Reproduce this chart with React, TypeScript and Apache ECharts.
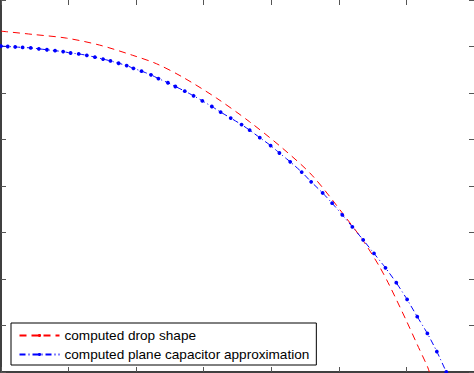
import React, { useEffect, useRef } from "react";
import * as echarts from "echarts";

// Computed drop shape (red dashed)
const dropX = [0, 0.47, 0.97, 1.46, 1.95, 2.3, 2.69, 3.19, 3.68, 4.16, 4.61, 5.11, 5.38, 5.6, 5.75, 6.0, 6.16, 6.31, 6.34];
const dropY = [7.33, 7.26, 7.18, 7.03, 6.81, 6.63, 6.34, 5.89, 5.38, 4.82, 4.22, 3.31, 2.78, 2.27, 1.86, 1.1, 0.59, 0.12, 0];

// Computed plane capacitor approximation (blue dash-dot with dots)
const capX = [0, 0.1, 0.21, 0.32, 0.44, 0.56, 0.68, 0.8, 0.92, 1.03, 1.15, 1.27, 1.39, 1.51, 1.62, 1.74, 1.86, 1.96, 2.08, 2.22, 2.33, 2.47, 2.58, 2.72, 2.85, 2.98, 3.12, 3.25, 3.4, 3.56, 3.68, 3.83, 3.99, 4.12, 4.28, 4.45, 4.59, 4.76, 4.9, 5.05, 5.2, 5.36, 5.52, 5.69, 5.85, 6.01, 6.16, 6.31, 6.45, 6.59];
const capY = [7.01, 7.0, 6.99, 6.98, 6.97, 6.95, 6.93, 6.91, 6.89, 6.86, 6.84, 6.81, 6.77, 6.73, 6.69, 6.64, 6.59, 6.53, 6.47, 6.39, 6.31, 6.22, 6.14, 6.04, 5.94, 5.83, 5.71, 5.59, 5.46, 5.32, 5.2, 5.04, 4.87, 4.71, 4.52, 4.3, 4.09, 3.85, 3.63, 3.38, 3.12, 2.84, 2.55, 2.24, 1.92, 1.56, 1.19, 0.83, 0.44, 0];

const seriesNames = ["computed drop shape", "computed plane capacitor approximation"];

const X_MIN = 0, X_MAX = 7, Y_MIN = 0, Y_MAX = 8;

export default function App() {
  const ref = useRef<HTMLDivElement>(null);
  useEffect(() => {
    if (!ref.current) return;
    const chart = echarts.init(ref.current, undefined, { renderer: "svg" });
    const font = "'Liberation Sans', Arial, Helvetica, sans-serif";
    const tickCommon = { show: true, inside: true, length: 5, lineStyle: { color: "#555", width: 1 } };
    chart.setOption({
      animation: false,
      backgroundColor: "#fff",
      grid: { left: 1, right: -1, top: -0.5, bottom: 1, containLabel: false },
      xAxis: [
        {
          type: "value", position: "bottom", min: X_MIN, max: X_MAX, interval: 1,
          axisLine: { show: true, onZero: false, lineStyle: { color: "#404040", width: 2 } },
          axisTick: tickCommon, axisLabel: { show: false }, splitLine: { show: false },
        },
        {
          type: "value", position: "top", min: X_MIN, max: X_MAX, interval: 1,
          axisLine: { show: false, onZero: false },
          axisTick: tickCommon, axisLabel: { show: false }, splitLine: { show: false },
        },
      ],
      yAxis: [
        {
          type: "value", position: "left", min: Y_MIN, max: Y_MAX, interval: 1,
          axisLine: { show: true, onZero: false, lineStyle: { color: "#404040", width: 2 } },
          axisTick: tickCommon, axisLabel: { show: false }, splitLine: { show: false },
        },
        {
          type: "value", position: "right", min: Y_MIN, max: Y_MAX, interval: 1,
          axisLine: { show: false, onZero: false },
          axisTick: tickCommon, axisLabel: { show: false }, splitLine: { show: false },
        },
      ],
      legend: {
        orient: "vertical",
        left: 11,
        top: 323,
        padding: [5, 7, 3, 7.5],
        itemWidth: 40,
        itemHeight: 4,
        itemGap: 4,
        backgroundColor: "#fff",
        borderColor: "#000",
        borderWidth: 1,
        borderRadius: 0,
        textStyle: { fontFamily: font, fontSize: 13.6, color: "#000", lineHeight: 15 },
        data: seriesNames,
      },
      series: [
        {
          name: seriesNames[0],
          type: "line",
          data: dropX.map((x, i) => [x, dropY[i]]),
          symbol: "none",
          lineStyle: { color: "#ff0000", width: 1, type: [7, 5] },
          itemStyle: { color: "#ff0000" },
          smooth: 0.3,
          z: 2,
        },
        {
          name: seriesNames[1],
          type: "line",
          data: capX.map((x, i) => [x, capY[i]]),
          symbol: "circle",
          symbolSize: 3.8,
          showSymbol: true,
          smooth: 0.2,
          lineStyle: { color: "#0000ff", width: 1, type: [6, 3, 1, 3] },
          itemStyle: { color: "#0000ff", borderWidth: 0 },
          z: 3,
        },
      ],
    });
    return () => chart.dispose();
  }, []);
  return (
    <div
      ref={ref}
      style={{ position: "fixed", left: 0, top: 0, width: 474, height: 373, background: "#fff" }}
    />
  );
}
